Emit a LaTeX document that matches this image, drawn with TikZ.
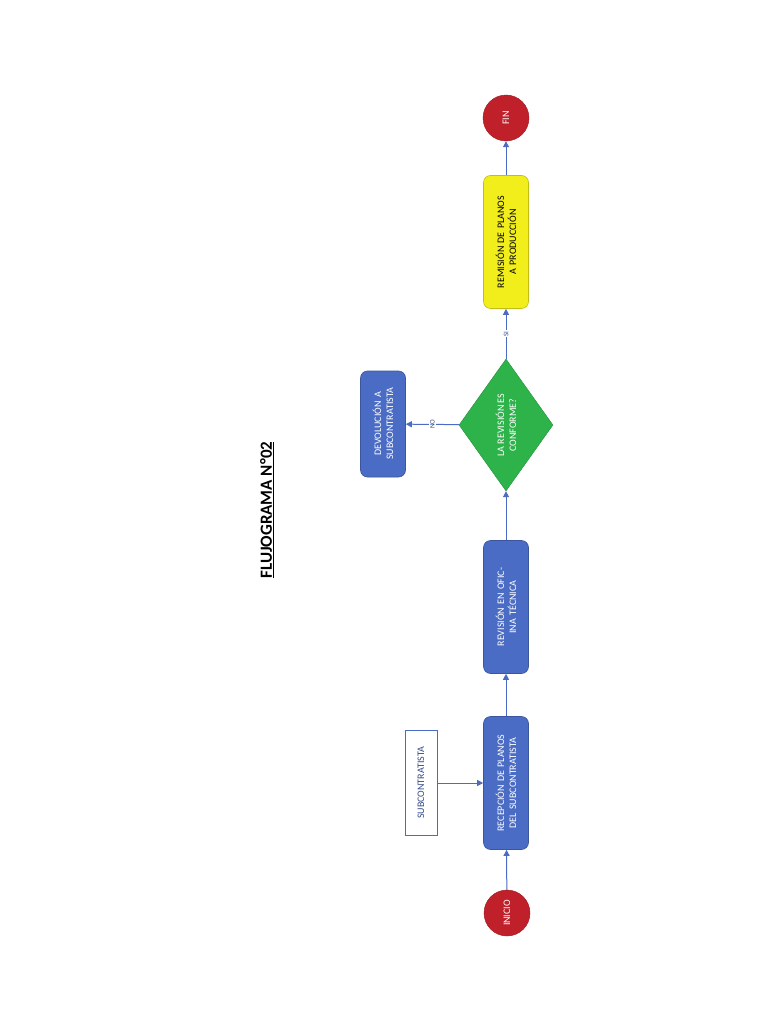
\documentclass[tikz,border=0pt]{standalone}
\usepackage{fontspec}
\setmainfont{Carlito}
\usetikzlibrary{shapes.geometric,arrows.meta}
\definecolor{bblue}{HTML}{4A6CC4}
\definecolor{rred}{HTML}{C0202A}
\definecolor{ggreen}{HTML}{2DB34A}
\definecolor{yyellow}{HTML}{F2EE1C}
\begin{document}
\begin{tikzpicture}[x=1pt,y=-1pt,
  base/.style={rotate=90,font=\fontsize{10}{12}\selectfont,align=center,inner sep=2pt},
  proc/.style={base,rectangle,rounded corners=7pt,fill=bblue,draw=bblue!80!black,line width=0.6pt,text=white,minimum width=133pt,minimum height=45pt,text width=110pt},
  term/.style={base,circle,fill=rred,draw=rred!80!black,text=white,minimum size=46pt,inner sep=0pt},
  arr/.style={draw=bblue,line width=1pt,-{Triangle[length=6pt,width=6pt]}},
  lab/.style={fill=white,inner sep=1pt,rotate=90,font=\fontsize{7}{8}\selectfont,text=bblue!70!black}]
\useasboundingbox (0,0) rectangle (768,1024);
\node[rotate=90,font=\fontsize{17}{20}\selectfont\bfseries] (title) at (267,510) {\underline{FLUJOGRAMA N°02}};
\node[term] (ini) at (507,913) {INICIO};
\node[proc] (rec) at (506,783) {RECEPCIÓN DE PLANOS DEL SUBCONTRATISTA};
\node[base,rectangle,draw=bblue,line width=1pt,fill=white,text=bblue!70!black,minimum width=105pt,minimum height=32pt] (sub) at (421,783) {SUBCONTRATISTA};
\node[proc] (rev) at (506,607) {REVISIÓN EN OFICINA TÉCNICA};
\node[base,diamond,fill=ggreen,draw=ggreen!80!black,text=white,minimum width=132pt,minimum height=94pt,inner sep=0pt] (dec) at (506,425) {LA REVISIÓN ES\\CONFORME?};
\node[proc,minimum width=106pt,text width=90pt] (dev) at (383,424) {DEVOLUCIÓN A SUBCONTRATISTA};
\node[proc,fill=yyellow,draw=yyellow!80!black,text=black] (rem) at (506,242) {REMISIÓN DE PLANOS A PRODUCCIÓN};
\node[term] (fin) at (506,118) {FIN};
\draw[arr] (ini) -- (rec);
\draw[arr] (sub) -- (rec);
\draw[arr] (rec) -- (rev);
\draw[arr] (rev) -- (dec);
\draw[arr] (dec) -- node[lab]{NO} (dev);
\draw[arr] (dec) -- node[lab]{SI} (rem);
\draw[arr] (rem) -- (fin);
\end{tikzpicture}
\end{document}
